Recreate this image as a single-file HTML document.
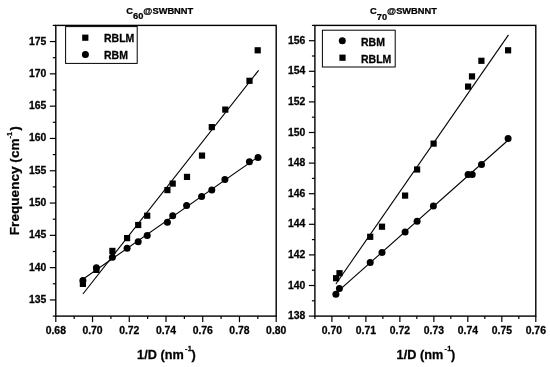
<!DOCTYPE html>
<html><head><meta charset="utf-8"><style>
html,body{margin:0;padding:0;background:#fff;}
body{width:550px;height:367px;overflow:hidden;}
svg{display:block;}
text{font-family:"Liberation Sans",Arial,sans-serif;font-weight:bold;fill:#000;stroke:#000;stroke-width:0.25px;}
.tl{font-size:10px;}
.lg{font-size:10px;}
.tt{font-size:9px;}
.at{font-size:12px;}
.aty{font-size:13px;}
.sup{font-size:7px;}
.supx{font-size:7px;letter-spacing:0.3px;}
</style></head><body>
<svg width="550" height="367" viewBox="0 0 550 367">
<rect width="550" height="367" fill="#fff"/>
<rect x="55.80" y="25.40" width="220.40" height="290.70" fill="none" stroke="#000" stroke-width="1.4"/>
<line x1="55.80" y1="316.10" x2="55.80" y2="322.10" stroke="#000" stroke-width="1.2"/>
<text transform="translate(55.80,334.20) scale(1.04,1)" class="tl" text-anchor="middle">0.68</text>
<line x1="74.17" y1="316.10" x2="74.17" y2="319.10" stroke="#000" stroke-width="1.2"/>
<line x1="92.53" y1="316.10" x2="92.53" y2="322.10" stroke="#000" stroke-width="1.2"/>
<text transform="translate(92.53,334.20) scale(1.04,1)" class="tl" text-anchor="middle">0.70</text>
<line x1="110.90" y1="316.10" x2="110.90" y2="319.10" stroke="#000" stroke-width="1.2"/>
<line x1="129.27" y1="316.10" x2="129.27" y2="322.10" stroke="#000" stroke-width="1.2"/>
<text transform="translate(129.27,334.20) scale(1.04,1)" class="tl" text-anchor="middle">0.72</text>
<line x1="147.63" y1="316.10" x2="147.63" y2="319.10" stroke="#000" stroke-width="1.2"/>
<line x1="166.00" y1="316.10" x2="166.00" y2="322.10" stroke="#000" stroke-width="1.2"/>
<text transform="translate(166.00,334.20) scale(1.04,1)" class="tl" text-anchor="middle">0.74</text>
<line x1="184.37" y1="316.10" x2="184.37" y2="319.10" stroke="#000" stroke-width="1.2"/>
<line x1="202.73" y1="316.10" x2="202.73" y2="322.10" stroke="#000" stroke-width="1.2"/>
<text transform="translate(202.73,334.20) scale(1.04,1)" class="tl" text-anchor="middle">0.76</text>
<line x1="221.10" y1="316.10" x2="221.10" y2="319.10" stroke="#000" stroke-width="1.2"/>
<line x1="239.47" y1="316.10" x2="239.47" y2="322.10" stroke="#000" stroke-width="1.2"/>
<text transform="translate(239.47,334.20) scale(1.04,1)" class="tl" text-anchor="middle">0.78</text>
<line x1="257.83" y1="316.10" x2="257.83" y2="319.10" stroke="#000" stroke-width="1.2"/>
<line x1="276.20" y1="316.10" x2="276.20" y2="322.10" stroke="#000" stroke-width="1.2"/>
<text transform="translate(276.20,334.20) scale(1.04,1)" class="tl" text-anchor="middle">0.80</text>
<line x1="52.80" y1="316.10" x2="55.80" y2="316.10" stroke="#000" stroke-width="1.2"/>
<line x1="49.80" y1="299.95" x2="55.80" y2="299.95" stroke="#000" stroke-width="1.2"/>
<text transform="translate(46.40,302.95) scale(1.04,1)" class="tl" text-anchor="end">135</text>
<line x1="52.80" y1="283.80" x2="55.80" y2="283.80" stroke="#000" stroke-width="1.2"/>
<line x1="49.80" y1="267.65" x2="55.80" y2="267.65" stroke="#000" stroke-width="1.2"/>
<text transform="translate(46.40,270.65) scale(1.04,1)" class="tl" text-anchor="end">140</text>
<line x1="52.80" y1="251.50" x2="55.80" y2="251.50" stroke="#000" stroke-width="1.2"/>
<line x1="49.80" y1="235.35" x2="55.80" y2="235.35" stroke="#000" stroke-width="1.2"/>
<text transform="translate(46.40,238.35) scale(1.04,1)" class="tl" text-anchor="end">145</text>
<line x1="52.80" y1="219.20" x2="55.80" y2="219.20" stroke="#000" stroke-width="1.2"/>
<line x1="49.80" y1="203.05" x2="55.80" y2="203.05" stroke="#000" stroke-width="1.2"/>
<text transform="translate(46.40,206.05) scale(1.04,1)" class="tl" text-anchor="end">150</text>
<line x1="52.80" y1="186.90" x2="55.80" y2="186.90" stroke="#000" stroke-width="1.2"/>
<line x1="49.80" y1="170.75" x2="55.80" y2="170.75" stroke="#000" stroke-width="1.2"/>
<text transform="translate(46.40,173.75) scale(1.04,1)" class="tl" text-anchor="end">155</text>
<line x1="52.80" y1="154.60" x2="55.80" y2="154.60" stroke="#000" stroke-width="1.2"/>
<line x1="49.80" y1="138.45" x2="55.80" y2="138.45" stroke="#000" stroke-width="1.2"/>
<text transform="translate(46.40,141.45) scale(1.04,1)" class="tl" text-anchor="end">160</text>
<line x1="52.80" y1="122.30" x2="55.80" y2="122.30" stroke="#000" stroke-width="1.2"/>
<line x1="49.80" y1="106.15" x2="55.80" y2="106.15" stroke="#000" stroke-width="1.2"/>
<text transform="translate(46.40,109.15) scale(1.04,1)" class="tl" text-anchor="end">165</text>
<line x1="52.80" y1="90.00" x2="55.80" y2="90.00" stroke="#000" stroke-width="1.2"/>
<line x1="49.80" y1="73.85" x2="55.80" y2="73.85" stroke="#000" stroke-width="1.2"/>
<text transform="translate(46.40,76.85) scale(1.04,1)" class="tl" text-anchor="end">170</text>
<line x1="52.80" y1="57.70" x2="55.80" y2="57.70" stroke="#000" stroke-width="1.2"/>
<line x1="49.80" y1="41.55" x2="55.80" y2="41.55" stroke="#000" stroke-width="1.2"/>
<text transform="translate(46.40,44.55) scale(1.04,1)" class="tl" text-anchor="end">175</text>
<line x1="52.80" y1="25.40" x2="55.80" y2="25.40" stroke="#000" stroke-width="1.2"/>
<rect x="314.90" y="25.40" width="220.90" height="290.70" fill="none" stroke="#000" stroke-width="1.4"/>
<line x1="314.90" y1="316.10" x2="314.90" y2="319.10" stroke="#000" stroke-width="1.2"/>
<line x1="331.89" y1="316.10" x2="331.89" y2="322.10" stroke="#000" stroke-width="1.2"/>
<text transform="translate(331.89,334.20) scale(1.04,1)" class="tl" text-anchor="middle">0.70</text>
<line x1="348.88" y1="316.10" x2="348.88" y2="319.10" stroke="#000" stroke-width="1.2"/>
<line x1="365.88" y1="316.10" x2="365.88" y2="322.10" stroke="#000" stroke-width="1.2"/>
<text transform="translate(365.88,334.20) scale(1.04,1)" class="tl" text-anchor="middle">0.71</text>
<line x1="382.87" y1="316.10" x2="382.87" y2="319.10" stroke="#000" stroke-width="1.2"/>
<line x1="399.86" y1="316.10" x2="399.86" y2="322.10" stroke="#000" stroke-width="1.2"/>
<text transform="translate(399.86,334.20) scale(1.04,1)" class="tl" text-anchor="middle">0.72</text>
<line x1="416.85" y1="316.10" x2="416.85" y2="319.10" stroke="#000" stroke-width="1.2"/>
<line x1="433.85" y1="316.10" x2="433.85" y2="322.10" stroke="#000" stroke-width="1.2"/>
<text transform="translate(433.85,334.20) scale(1.04,1)" class="tl" text-anchor="middle">0.73</text>
<line x1="450.84" y1="316.10" x2="450.84" y2="319.10" stroke="#000" stroke-width="1.2"/>
<line x1="467.83" y1="316.10" x2="467.83" y2="322.10" stroke="#000" stroke-width="1.2"/>
<text transform="translate(467.83,334.20) scale(1.04,1)" class="tl" text-anchor="middle">0.74</text>
<line x1="484.82" y1="316.10" x2="484.82" y2="319.10" stroke="#000" stroke-width="1.2"/>
<line x1="501.82" y1="316.10" x2="501.82" y2="322.10" stroke="#000" stroke-width="1.2"/>
<text transform="translate(501.82,334.20) scale(1.04,1)" class="tl" text-anchor="middle">0.75</text>
<line x1="518.81" y1="316.10" x2="518.81" y2="319.10" stroke="#000" stroke-width="1.2"/>
<line x1="535.80" y1="316.10" x2="535.80" y2="322.10" stroke="#000" stroke-width="1.2"/>
<text transform="translate(535.80,334.20) scale(1.04,1)" class="tl" text-anchor="middle">0.76</text>
<line x1="308.90" y1="316.10" x2="314.90" y2="316.10" stroke="#000" stroke-width="1.2"/>
<text transform="translate(305.40,319.10) scale(1.04,1)" class="tl" text-anchor="end">138</text>
<line x1="311.90" y1="300.80" x2="314.90" y2="300.80" stroke="#000" stroke-width="1.2"/>
<line x1="308.90" y1="285.50" x2="314.90" y2="285.50" stroke="#000" stroke-width="1.2"/>
<text transform="translate(305.40,288.50) scale(1.04,1)" class="tl" text-anchor="end">140</text>
<line x1="311.90" y1="270.20" x2="314.90" y2="270.20" stroke="#000" stroke-width="1.2"/>
<line x1="308.90" y1="254.90" x2="314.90" y2="254.90" stroke="#000" stroke-width="1.2"/>
<text transform="translate(305.40,257.90) scale(1.04,1)" class="tl" text-anchor="end">142</text>
<line x1="311.90" y1="239.60" x2="314.90" y2="239.60" stroke="#000" stroke-width="1.2"/>
<line x1="308.90" y1="224.30" x2="314.90" y2="224.30" stroke="#000" stroke-width="1.2"/>
<text transform="translate(305.40,227.30) scale(1.04,1)" class="tl" text-anchor="end">144</text>
<line x1="311.90" y1="209.00" x2="314.90" y2="209.00" stroke="#000" stroke-width="1.2"/>
<line x1="308.90" y1="193.70" x2="314.90" y2="193.70" stroke="#000" stroke-width="1.2"/>
<text transform="translate(305.40,196.70) scale(1.04,1)" class="tl" text-anchor="end">146</text>
<line x1="311.90" y1="178.40" x2="314.90" y2="178.40" stroke="#000" stroke-width="1.2"/>
<line x1="308.90" y1="163.10" x2="314.90" y2="163.10" stroke="#000" stroke-width="1.2"/>
<text transform="translate(305.40,166.10) scale(1.04,1)" class="tl" text-anchor="end">148</text>
<line x1="311.90" y1="147.80" x2="314.90" y2="147.80" stroke="#000" stroke-width="1.2"/>
<line x1="308.90" y1="132.50" x2="314.90" y2="132.50" stroke="#000" stroke-width="1.2"/>
<text transform="translate(305.40,135.50) scale(1.04,1)" class="tl" text-anchor="end">150</text>
<line x1="311.90" y1="117.20" x2="314.90" y2="117.20" stroke="#000" stroke-width="1.2"/>
<line x1="308.90" y1="101.90" x2="314.90" y2="101.90" stroke="#000" stroke-width="1.2"/>
<text transform="translate(305.40,104.90) scale(1.04,1)" class="tl" text-anchor="end">152</text>
<line x1="311.90" y1="86.60" x2="314.90" y2="86.60" stroke="#000" stroke-width="1.2"/>
<line x1="308.90" y1="71.30" x2="314.90" y2="71.30" stroke="#000" stroke-width="1.2"/>
<text transform="translate(305.40,74.30) scale(1.04,1)" class="tl" text-anchor="end">154</text>
<line x1="311.90" y1="56.00" x2="314.90" y2="56.00" stroke="#000" stroke-width="1.2"/>
<line x1="308.90" y1="40.70" x2="314.90" y2="40.70" stroke="#000" stroke-width="1.2"/>
<text transform="translate(305.40,43.70) scale(1.04,1)" class="tl" text-anchor="end">156</text>
<line x1="311.90" y1="25.40" x2="314.90" y2="25.40" stroke="#000" stroke-width="1.2"/>
<line x1="82.9" y1="294.0" x2="258.6" y2="70.4" stroke="#000" stroke-width="1.1"/>
<line x1="82.9" y1="279.3" x2="258.0" y2="156.9" stroke="#000" stroke-width="1.1"/>
<rect x="79.80" y="280.80" width="6.2" height="6.2"/>
<rect x="93.30" y="266.80" width="6.2" height="6.2"/>
<rect x="109.30" y="247.80" width="6.2" height="6.2"/>
<rect x="124.00" y="235.00" width="6.2" height="6.2"/>
<rect x="135.10" y="221.90" width="6.2" height="6.2"/>
<rect x="144.10" y="212.60" width="6.2" height="6.2"/>
<rect x="164.30" y="187.00" width="6.2" height="6.2"/>
<rect x="169.60" y="180.50" width="6.2" height="6.2"/>
<rect x="183.90" y="173.80" width="6.2" height="6.2"/>
<rect x="198.90" y="152.50" width="6.2" height="6.2"/>
<rect x="208.70" y="124.00" width="6.2" height="6.2"/>
<rect x="222.20" y="106.50" width="6.2" height="6.2"/>
<rect x="246.40" y="77.70" width="6.2" height="6.2"/>
<rect x="254.60" y="47.20" width="6.2" height="6.2"/>
<circle cx="82.90" cy="280.50" r="3.5"/>
<circle cx="96.40" cy="267.80" r="3.5"/>
<circle cx="112.40" cy="257.20" r="3.5"/>
<circle cx="127.10" cy="248.20" r="3.5"/>
<circle cx="138.20" cy="241.70" r="3.5"/>
<circle cx="147.20" cy="235.60" r="3.5"/>
<circle cx="167.40" cy="222.30" r="3.5"/>
<circle cx="172.70" cy="215.80" r="3.5"/>
<circle cx="186.60" cy="205.60" r="3.5"/>
<circle cx="201.60" cy="196.50" r="3.5"/>
<circle cx="211.80" cy="190.10" r="3.5"/>
<circle cx="224.90" cy="179.40" r="3.5"/>
<circle cx="249.40" cy="161.70" r="3.5"/>
<circle cx="258.00" cy="157.60" r="3.5"/>
<line x1="335.9" y1="284.0" x2="508.5" y2="34.9" stroke="#000" stroke-width="1.1"/>
<line x1="335.9" y1="293.2" x2="508.3" y2="140.0" stroke="#000" stroke-width="1.1"/>
<rect x="333.00" y="275.10" width="6.2" height="6.2"/>
<rect x="336.40" y="270.10" width="6.2" height="6.2"/>
<rect x="367.10" y="233.70" width="6.2" height="6.2"/>
<rect x="378.90" y="223.60" width="6.2" height="6.2"/>
<rect x="402.00" y="192.50" width="6.2" height="6.2"/>
<rect x="414.00" y="166.40" width="6.2" height="6.2"/>
<rect x="430.50" y="140.50" width="6.2" height="6.2"/>
<rect x="465.00" y="83.50" width="6.2" height="6.2"/>
<rect x="468.90" y="73.30" width="6.2" height="6.2"/>
<rect x="478.30" y="57.70" width="6.2" height="6.2"/>
<rect x="505.00" y="47.20" width="6.2" height="6.2"/>
<circle cx="335.90" cy="294.20" r="3.5"/>
<circle cx="339.40" cy="288.60" r="3.5"/>
<circle cx="370.20" cy="262.60" r="3.5"/>
<circle cx="382.00" cy="252.40" r="3.5"/>
<circle cx="405.10" cy="232.00" r="3.5"/>
<circle cx="417.10" cy="221.30" r="3.5"/>
<circle cx="433.40" cy="206.00" r="3.5"/>
<circle cx="468.10" cy="174.60" r="3.5"/>
<circle cx="472.20" cy="174.60" r="3.5"/>
<circle cx="481.50" cy="164.40" r="3.5"/>
<circle cx="508.10" cy="138.50" r="3.5"/>
<rect x="65.6" y="26.6" width="71.6" height="36.8" fill="none" stroke="#000" stroke-width="1"/>
<rect x="82.20" y="34.60" width="6.2" height="6.2"/>
<circle cx="85.40" cy="54.50" r="3.5"/>
<text transform="translate(104.00,41.80) scale(1.05,1)" class="lg">RBLM</text>
<text transform="translate(104.00,58.50) scale(1.05,1)" class="lg">RBM</text>
<rect x="322.4" y="30.2" width="72.8" height="36.8" fill="none" stroke="#000" stroke-width="1"/>
<circle cx="342.30" cy="40.80" r="3.5"/>
<rect x="339.40" y="54.60" width="6.2" height="6.2"/>
<text transform="translate(361.00,45.90) scale(1.05,1)" class="lg">RBM</text>
<text transform="translate(361.00,62.60) scale(1.05,1)" class="lg">RBLM</text>
<text transform="translate(126.30,13.70) scale(1.035,1)" class="tt">C<tspan dy="5.5">60</tspan><tspan dy="-5.5">@SWBNNT</tspan></text>
<text transform="translate(370.00,14.40) scale(1.035,1)" class="tt">C<tspan dy="5.5">70</tspan><tspan dy="-5.5">@SWBNNT</tspan></text>
<text transform="translate(137.10,359.20) scale(1.06,1)" class="at">1/D (nm<tspan dy="-8.2" dx="1.2" class="supx">-1</tspan><tspan dy="8.2" dx="-0.6">)</tspan></text>
<text transform="translate(396.60,359.20) scale(1.06,1)" class="at">1/D (nm<tspan dy="-8.2" dx="1.2" class="supx">-1</tspan><tspan dy="8.2" dx="-0.6">)</tspan></text>
<text transform="translate(19.2,235.2) rotate(-90) scale(1.047,1)" class="aty">Frequency (cm<tspan dy="-7.4" class="sup">-1</tspan><tspan dy="7.4" dx="1.2">)</tspan></text>
</svg>
</body></html>
